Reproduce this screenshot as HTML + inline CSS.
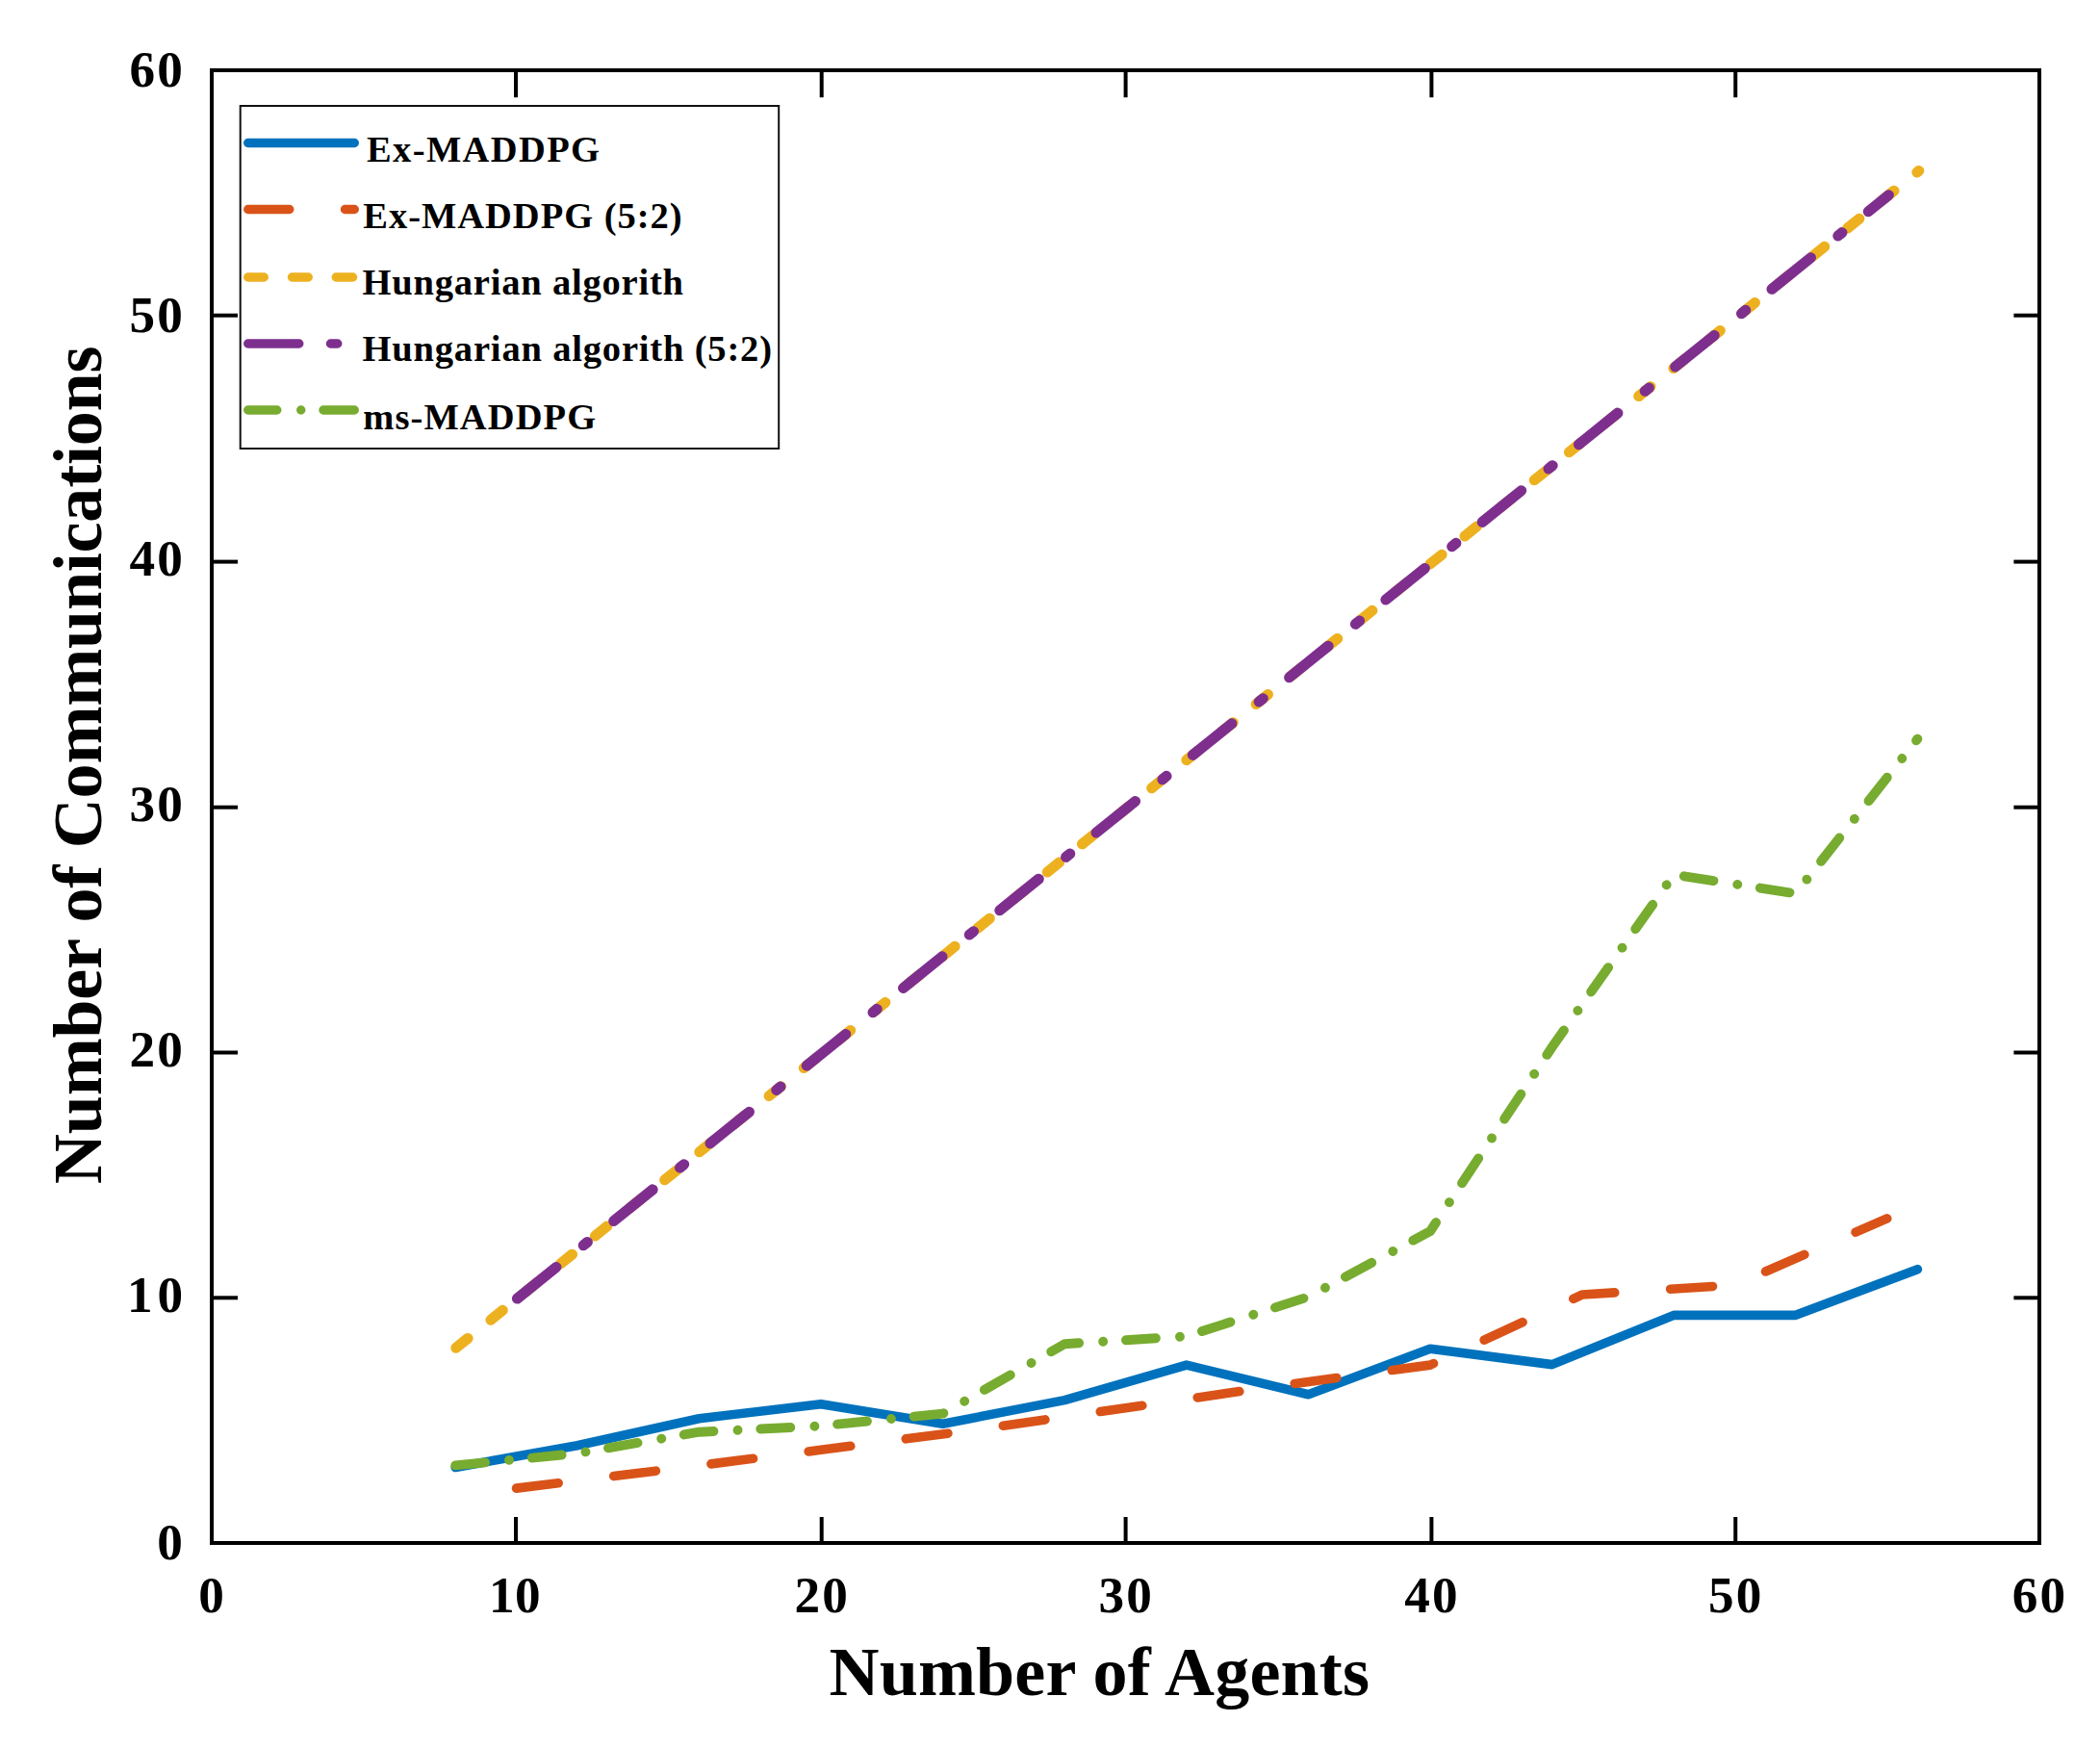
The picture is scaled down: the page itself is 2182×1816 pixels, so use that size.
<!DOCTYPE html>
<html lang="en"><head><meta charset="utf-8"><title>Number of Communications vs Number of Agents</title>
<style>
html,body{margin:0;padding:0;background:#fff;}
svg{display:block;}
text{font-family:"Liberation Serif","Times New Roman",Times,serif;font-weight:bold;fill:#000;}
.tk{font-size:53.2px;letter-spacing:2.2px;}
.t1{letter-spacing:0.4px;}
.t1y{letter-spacing:5px;}
.lg{font-size:38.5px;}
.ax{font-size:72px;}
.ln{fill:none;stroke-linecap:round;stroke-linejoin:round;}
</style></head><body>
<svg width="2182" height="1816" viewBox="0 0 2182 1816">
<rect x="0" y="0" width="2182" height="1816" fill="#fff"/>
<g class="ln">
<polyline stroke="#0072BD" stroke-width="9.6" points="473.20,1524.46 599.80,1501.77 726.40,1473.71 853.00,1458.67 979.60,1479.33 1106.20,1454.59 1232.80,1418.12 1359.40,1448.72 1486.00,1401.30 1612.60,1417.62 1739.20,1366.36 1865.80,1366.36 1992.40,1318.67"/>
<polyline stroke="#D95319" stroke-width="9.6" stroke-dasharray="44 58" points="536.50,1546.13 694.75,1526.50 853.00,1506.36 1011.25,1485.70 1169.50,1462.75 1327.75,1439.80 1486.00,1418.12 1644.25,1344.94 1802.50,1334.99 1960.75,1265.89"/>
<polyline stroke="#EDB120" stroke-width="11" stroke-dasharray="15.8 30.59" points="473.80,1400.30 1993.79,177.40"/>
<polyline stroke="#7E2F8E" stroke-width="11" stroke-dasharray="52 36.3 5.4 35" points="537.39,1349.12 1962.40,202.67"/>
<polyline stroke="#77AC30" stroke-width="9.9" stroke-dasharray="31 25.1 0.01 23.83" points="473.20,1522.42 599.80,1509.92 726.40,1487.74 853.00,1481.37 979.60,1468.62 1106.20,1396.19 1232.80,1388.29 1359.40,1347.24 1486.00,1279.15 1612.60,1087.90 1739.20,908.63 1865.80,928.27 1992.40,767.62"/>
</g>
<g stroke="#000" stroke-width="4.0" fill="none" stroke-linecap="butt">
<rect x="220.00" y="73.00" width="1899.00" height="1530.00"/>
<line x1="536.00" y1="1603.00" x2="536.00" y2="1576.00"/>
<line x1="536.00" y1="73.00" x2="536.00" y2="101.20"/>
<line x1="220.00" y1="1348.30" x2="247.00" y2="1348.30"/>
<line x1="2119.00" y1="1348.30" x2="2092.40" y2="1348.30"/>
<line x1="853.70" y1="1603.00" x2="853.70" y2="1576.00"/>
<line x1="853.70" y1="73.00" x2="853.70" y2="101.20"/>
<line x1="220.00" y1="1093.50" x2="247.00" y2="1093.50"/>
<line x1="2119.00" y1="1093.50" x2="2092.40" y2="1093.50"/>
<line x1="1169.60" y1="1603.00" x2="1169.60" y2="1576.00"/>
<line x1="1169.60" y1="73.00" x2="1169.60" y2="101.20"/>
<line x1="220.00" y1="838.70" x2="247.00" y2="838.70"/>
<line x1="2119.00" y1="838.70" x2="2092.40" y2="838.70"/>
<line x1="1487.40" y1="1603.00" x2="1487.40" y2="1576.00"/>
<line x1="1487.40" y1="73.00" x2="1487.40" y2="101.20"/>
<line x1="220.00" y1="583.60" x2="247.00" y2="583.60"/>
<line x1="2119.00" y1="583.60" x2="2092.40" y2="583.60"/>
<line x1="1803.25" y1="1603.00" x2="1803.25" y2="1576.00"/>
<line x1="1803.25" y1="73.00" x2="1803.25" y2="101.20"/>
<line x1="220.00" y1="327.70" x2="247.00" y2="327.70"/>
<line x1="2119.00" y1="327.70" x2="2092.40" y2="327.70"/>
</g>
<g class="tk">
<text x="220.60" y="1675.00" text-anchor="middle">0</text>
<text class="t1" x="535.10" y="1675.00" text-anchor="middle">10</text>
<text x="854.30" y="1675.00" text-anchor="middle">20</text>
<text x="1170.20" y="1675.00" text-anchor="middle">30</text>
<text x="1488.00" y="1675.00" text-anchor="middle">40</text>
<text x="1803.85" y="1675.00" text-anchor="middle">50</text>
<text x="2119.60" y="1675.00" text-anchor="middle">60</text>
<text x="192.00" y="1619.80" text-anchor="end">0</text>
<text class="t1y" x="195.20" y="1363.20" text-anchor="end">10</text>
<text x="192.00" y="1108.20" text-anchor="end">20</text>
<text x="192.00" y="853.20" text-anchor="end">30</text>
<text x="192.00" y="598.20" text-anchor="end">40</text>
<text x="192.00" y="344.80" text-anchor="end">50</text>
<text x="192.00" y="89.80" text-anchor="end">60</text>
</g>
<text class="ax" x="861.5" y="1761" textLength="561.5" lengthAdjust="spacing">Number of Agents</text>
<text class="ax" transform="translate(105 1230) rotate(-90)" x="0" y="0" textLength="870.5" lengthAdjust="spacing">Number of Communications</text>
<rect x="249.7" y="110" width="559.5" height="356" fill="#fff" stroke="#111" stroke-width="2"/>
<path class="ln" stroke="#0072BD" stroke-width="9.5" d="M257.75 148.50H368.25"/>
<text class="lg" x="381.00" y="168.30" textLength="242.0" lengthAdjust="spacing">Ex-MADDPG</text>
<path class="ln" stroke="#D95319" stroke-width="9.5" d="M257.75 217.50H300.75 M358.50 217.50H368.25"/>
<text class="lg" x="377.30" y="237.30" textLength="331.2" lengthAdjust="spacing">Ex-MADDPG (5:2)</text>
<path class="ln" stroke="#EDB120" stroke-width="9.5" d="M257.75 288.00H274.25 M303.50 288.00H320.25 M349.25 288.00H366.50"/>
<text class="lg" x="376.50" y="305.60" textLength="333.5" lengthAdjust="spacing">Hungarian algorith</text>
<path class="ln" stroke="#7E2F8E" stroke-width="9.5" d="M257.75 357.00H310.75 M343.50 357.00H350.75"/>
<text class="lg" x="376.50" y="375.00" textLength="425.5" lengthAdjust="spacing">Hungarian algorith (5:2)</text>
<path class="ln" stroke="#77AC30" stroke-width="9.5" d="M257.75 426.00H287.75 M312.75 426.00H312.76 M336.00 426.00H368.25"/>
<text class="lg" x="377.20" y="445.70" textLength="242.0" lengthAdjust="spacing">ms-MADDPG</text>
</svg>
</body></html>
